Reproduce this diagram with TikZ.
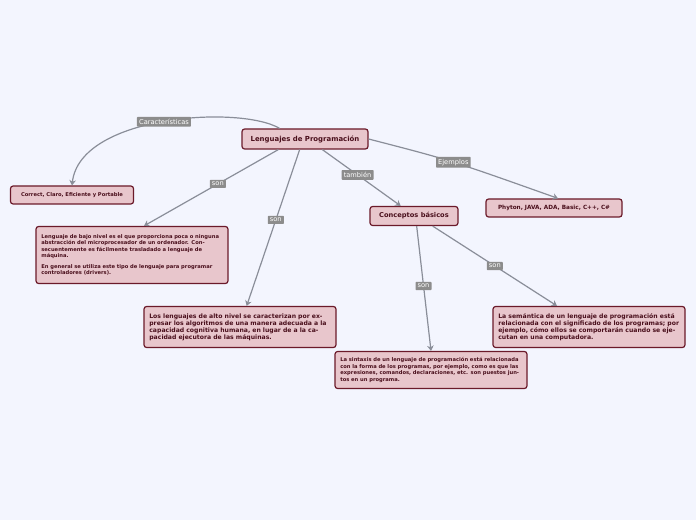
\documentclass[tikz,border=0pt]{standalone}
\usepackage{fontspec}
\setmainfont{DejaVu Sans}
\usetikzlibrary{arrows.meta}
\definecolor{bg}{HTML}{F3F5FE}
\definecolor{boxfill}{HTML}{E8C6CC}
\definecolor{boxline}{HTML}{6B1A2A}
\definecolor{boxtext}{HTML}{4A0F1C}
\definecolor{labfill}{HTML}{8C8C8C}
\definecolor{conncol}{HTML}{8A8E99}
\tikzset{
  topic/.style={draw=boxline, fill=boxfill, line width=0.9pt, rounded corners=2pt, text=boxtext, font=\bfseries, align=left, inner sep=4pt},
  lab/.style={fill=labfill, text=white, font=\fontsize{5}{6}\selectfont, inner sep=1.6pt, rounded corners=0.5pt},
  conn/.style={draw=conncol, line width=0.9pt, -{Stealth[length=4pt,width=5pt]}},
}
\begin{document}
\begin{tikzpicture}[x=0.75pt,y=-0.75pt]
\fill[bg] (0,0) rectangle (696,520);
\useasboundingbox (0,0) rectangle (696,520);
\node[topic, minimum width=126*0.75pt, minimum height=20*0.75pt, font=\bfseries\fontsize{5.2}{6}\selectfont] (LP) at (305,139) {Lenguajes de Programación};
\node[topic, minimum width=123*0.75pt, minimum height=18*0.75pt, font=\bfseries\fontsize{3.9}{5}\selectfont] (CO) at (72,195) {Correct, Claro, Eficiente y Portable};
\node[topic, minimum width=192*0.75pt, minimum height=57*0.75pt, text width=136pt, inner sep=2pt, font=\bfseries\fontsize{3.9}{4.9}\selectfont] (BA) at (132,255) {Lenguaje de bajo nivel es el que proporciona poca o ninguna abstracción del microprocesador de un ordenador. Consecuentemente es fácilmente trasladado a lenguaje de máquina.\\[3pt]En general se utiliza este tipo de lenguaje para programar controladores (drivers).};
\node[topic, minimum width=192*0.75pt, minimum height=41*0.75pt, text width=136pt, inner sep=2pt, font=\bfseries\fontsize{4.6}{5.3}\selectfont] (AL) at (240,327) {Los lenguajes de alto nivel se caracterizan por expresar los algoritmos de una manera adecuada a la capacidad cognitiva humana, en lugar de a la capacidad ejecutora de las máquinas.};
\node[topic, minimum width=88*0.75pt, minimum height=19*0.75pt, font=\bfseries\fontsize{5}{6}\selectfont] (CB) at (414,216) {Conceptos básicos};
\node[topic, minimum width=136*0.75pt, minimum height=18*0.75pt, font=\bfseries\fontsize{4.3}{5}\selectfont] (PH) at (554,208) {Phyton, JAVA, ADA, Basic, C++, C\#};
\node[topic, minimum width=192*0.75pt, minimum height=41*0.75pt, text width=136pt, inner sep=2pt, font=\bfseries\fontsize{4.6}{5.3}\selectfont] (SE) at (589,327) {La semántica de un lenguaje de programación está relacionada con el significado de los programas; por ejemplo, cómo ellos se comportarán cuando se ejecutan en una computadora.};
\node[topic, minimum width=192*0.75pt, minimum height=37*0.75pt, text width=136pt, inner sep=2pt, font=\bfseries\fontsize{3.9}{4.9}\selectfont] (SI) at (431,370) {La sintaxis de un lenguaje de programación está relacionada con la forma de los programas, por ejemplo, como es que las expresiones, comandos, declaraciones, etc. son puestos juntos en un programa.};

\draw[conn] ([xshift=-19pt]LP.north) .. controls (240,105) and (80,115) .. (CO.north) node[lab, pos=0.5] {Características};
\draw[conn] ([xshift=-20pt]LP.south) -- ([xshift=9pt]BA.north) node[lab, pos=0.45] {son};
\draw[conn] ([xshift=-4pt]LP.south) -- ([xshift=5pt]AL.north) node[lab, pos=0.45] {son};
\draw[conn] ([xshift=13pt]LP.south) -- ([xshift=-10pt]CB.north) node[lab, pos=0.45] {también};
\draw[conn] (LP.east) .. controls (450,160) .. ([xshift=3pt]PH.north) node[lab, pos=0.5] {Ejemplos};
\draw[conn] ([xshift=2pt]CB.south) -- (SI.north) node[lab, pos=0.48] {son};
\draw[conn] ([xshift=14pt]CB.south) -- ([xshift=-24pt]SE.north) node[lab, pos=0.5] {son};
\end{tikzpicture}
\end{document}
